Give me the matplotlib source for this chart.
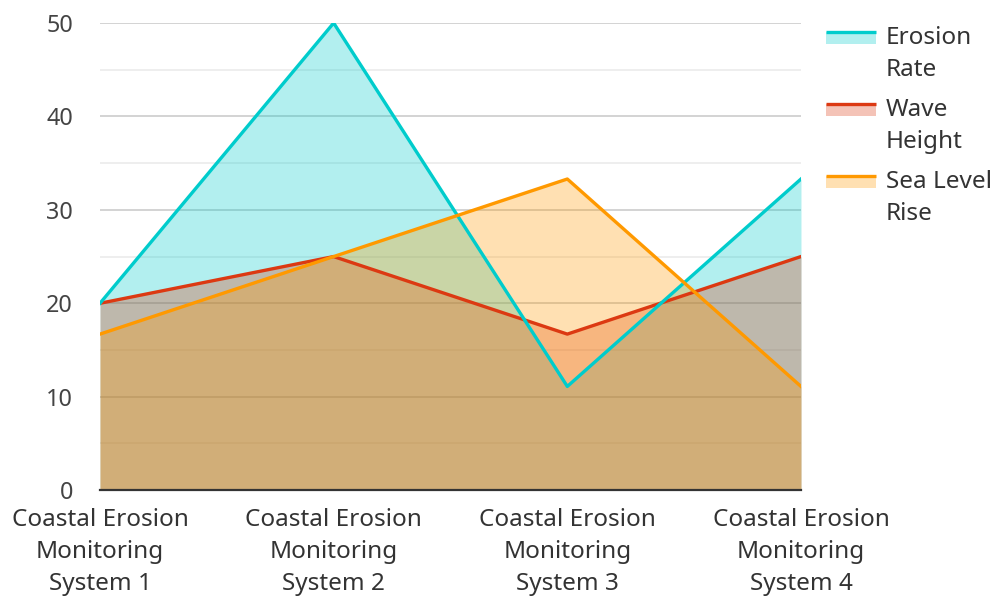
import numpy as np
import matplotlib.pyplot as plt
from matplotlib.patches import Rectangle
from matplotlib.lines import Line2D
from matplotlib.legend_handler import HandlerBase

plt.rcParams['font.family'] = ['Noto Sans', 'DejaVu Sans']

systems = ['Coastal Erosion\nMonitoring\nSystem 1', 'Coastal Erosion\nMonitoring\nSystem 2',
           'Coastal Erosion\nMonitoring\nSystem 3', 'Coastal Erosion\nMonitoring\nSystem 4']
erosion_rate = [20, 50, 11.1, 33.3]
wave_height = [20, 25, 16.7, 25]
sea_level_rise = [16.7, 25, 33.3, 11.1]

names = ['Erosion\nRate', 'Wave\nHeight', 'Sea Level\nRise']
colors = ['#00cccc', '#dc3912', '#ff9900']
series = [erosion_rate, wave_height, sea_level_rise]

FS = 17.5
LSP = 1.43


class LineOverFill(HandlerBase):
    # line on top of a pale swatch, lifted up to the first text line
    def create_artists(self, legend, orig_handle, xdescent, ydescent,
                       width, height, fontsize, trans):
        c = orig_handle.get_color()
        lift = 15.0
        top = -ydescent + lift + 0.42 * fontsize
        rect = Rectangle((-xdescent, top - 8.6), width, 8.6,
                         facecolor=c, alpha=0.3, edgecolor='none', transform=trans)
        line = Line2D([-xdescent, -xdescent + width], [top, top], color=c,
                      lw=2.4, transform=trans, solid_capstyle='butt')
        return [rect, line]


fig = plt.figure(figsize=(9.95, 5.97), dpi=100)
ax = fig.add_axes([0.1005, 0.179, 0.7045, 0.7825])

x = np.arange(len(systems))
for vals, c in zip(series, colors):
    ax.fill_between(x, 0, vals, color=c, alpha=0.3, lw=0, zorder=1)

for i in [1, 0, 2]:
    ax.plot(x, series[i], color=colors[i], lw=2.4, zorder=3)
handles = [Line2D([], [], color=c) for c in colors]

ax.set_xlim(0, 3)
ax.set_ylim(0, 50)
ax.set_yticks(np.arange(0, 51, 10))
ax.set_yticks(np.arange(5, 50, 10), minor=True)
ax.grid(axis='y', which='major', color='#cccccc', lw=1.2, zorder=0)
ax.grid(axis='y', which='minor', color='#ebebeb', lw=1.2, zorder=0)
ax.set_axisbelow(True)

ax.set_xticks(x)
ax.set_xticklabels(systems, fontsize=FS, color='#333333', linespacing=LSP)
ax.tick_params(axis='x', length=0, pad=13)
ax.tick_params(axis='y', which='both', length=0, pad=19.5, labelsize=16.8, labelcolor='#444444')
for s in ['left', 'right', 'top']:
    ax.spines[s].set_visible(False)
ax.spines['bottom'].set_color('#333333')
ax.spines['bottom'].set_linewidth(1.6)
ax.spines['bottom'].set_zorder(4)

leg = ax.legend(handles, names, handler_map={Line2D: LineOverFill()},
                loc='upper left', bbox_to_anchor=(1.0357, 0.994), frameon=False,
                fontsize=FS, handlelength=2.06, handletextpad=0.41,
                labelspacing=0.68, borderaxespad=0, borderpad=0)
for t in leg.get_texts():
    t.set_color('#333333')
    t.set_linespacing(LSP)

fig.savefig('out.png', dpi=100)
